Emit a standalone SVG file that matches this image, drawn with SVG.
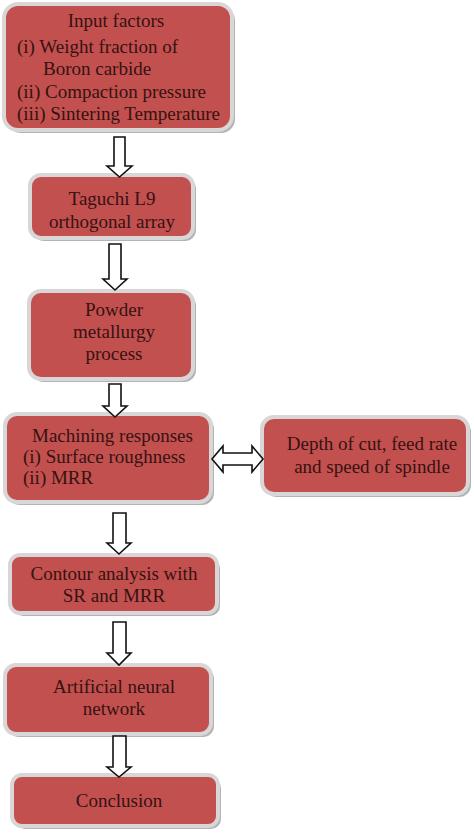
<svg xmlns="http://www.w3.org/2000/svg" width="474" height="835" viewBox="0 0 474 835">
<style>
.sh{fill:#9a9a9a;opacity:0.75}
.bx{fill:#c2504e;stroke:#d8d6d6;stroke-width:4}
.t{font-family:"Liberation Serif","Times New Roman",serif;font-size:19px;fill:#361212}
.c{text-anchor:middle}
.ar{fill:#ffffff;stroke:#111111;stroke-width:1.6;stroke-linejoin:miter}
</style>
<rect width="474" height="835" fill="#ffffff"/>
<g id="n1">
<rect class="sh" x="7" y="7" width="228" height="126" rx="14"/>
<rect class="bx" x="4" y="4" width="228" height="126" rx="14"/>
<text class="t c" x="116" y="27">Input factors</text>
<text class="t" x="17" y="53">(i) Weight fraction of</text>
<text class="t" x="43" y="75">Boron carbide</text>
<text class="t" x="17" y="98">(ii) Compaction pressure</text>
<text class="t" x="17" y="120">(iii) Sintering Temperature</text>
</g>
<g id="n2">
<rect class="sh" x="33" y="178" width="163" height="63" rx="11"/>
<rect class="bx" x="30" y="175" width="163" height="63" rx="11"/>
<text class="t c" x="112" y="205">Taguchi L9</text>
<text class="t c" x="112" y="228">orthogonal array</text>
</g>
<g id="n3">
<rect class="sh" x="32" y="294" width="164" height="88" rx="12"/>
<rect class="bx" x="29" y="291" width="164" height="88" rx="12"/>
<text class="t c" x="114" y="316">Powder</text>
<text class="t c" x="114" y="338">metallurgy</text>
<text class="t c" x="114" y="360">process</text>
</g>
<g id="n4">
<rect class="sh" x="8" y="417" width="206" height="88" rx="12"/>
<rect class="bx" x="5" y="414" width="206" height="88" rx="12"/>
<text class="t" x="32" y="442">Machining responses</text>
<text class="t" x="23" y="463">(i) Surface roughness</text>
<text class="t" x="23" y="484">(ii) MRR</text>
</g>
<g id="n5">
<rect class="sh" x="265" y="420" width="206" height="77" rx="12"/>
<rect class="bx" x="262" y="417" width="206" height="77" rx="12"/>
<text class="t c" x="372" y="450">Depth of cut, feed rate</text>
<text class="t c" x="372" y="473">and speed of spindle</text>
</g>
<g id="n6">
<rect class="sh" x="13" y="558" width="207" height="58" rx="10"/>
<rect class="bx" x="10" y="555" width="207" height="58" rx="10"/>
<text class="t c" x="114" y="580">Contour analysis with</text>
<text class="t c" x="114" y="602">SR and MRR</text>
</g>
<g id="n7">
<rect class="sh" x="8" y="668" width="206" height="69" rx="11"/>
<rect class="bx" x="5" y="665" width="206" height="69" rx="11"/>
<text class="t c" x="114" y="693">Artificial neural</text>
<text class="t c" x="114" y="715">network</text>
</g>
<g id="n8">
<rect class="sh" x="15" y="778" width="206" height="51" rx="10"/>
<rect class="bx" x="12" y="775" width="206" height="51" rx="10"/>
<text class="t c" x="119" y="807">Conclusion</text>
</g>
<g id="connectors">
<polygon class="ar" points="114,137 125,137 125,166 132,166 119.5,177 107,166 114,166"/>
<polygon class="ar" points="109,244 121,244 121,279 127,279 115,290 103,279 109,279"/>
<polygon class="ar" points="109,384 121,384 121,406 127,406 115,417 103,406 109,406"/>
<polygon class="ar" points="113,513 126,513 126,543 131,543 119,554 107,543 113,543"/>
<polygon class="ar" points="113,622 126,622 126,653 131,653 119,665 107,653 113,653"/>
<polygon class="ar" points="113,736 126,736 126,767 131,767 119,777 107,767 113,767"/>
<polygon class="ar" points="212,459 223,446 223,453 252,453 252,446 263,459 252,472 252,465 223,465 223,472"/>
</g>
</svg>
